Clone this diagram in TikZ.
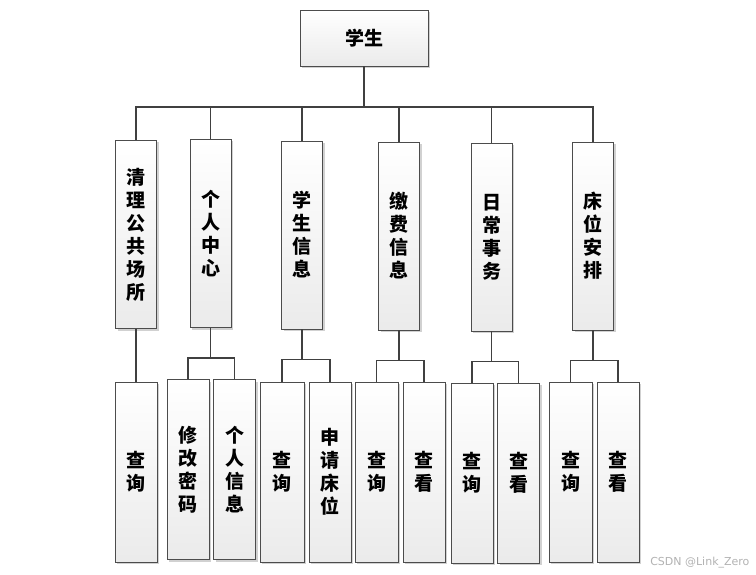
\documentclass[tikz,border=0pt]{standalone}
\usepackage{fontspec}
\newfontfamily\cjk{Noto Sans CJK SC}
\newfontfamily\wmfont{DejaVu Sans}
\usetikzlibrary{shadows}

\tikzset{
  box/.style = {shape=rectangle, draw=black!70, line width=0.9pt,
    top color=white, bottom color=black!8, inner sep=0pt,
    align=center, font=\cjk\bfseries\fontsize{19}{23}\selectfont,
    drop shadow={shadow xshift=2pt, shadow yshift=-2pt, fill=black!18, opacity=1}},
  modbox/.style = {box, minimum width=41pt, minimum height=188pt},
  funbox/.style = {box, minimum width=42pt, minimum height=180pt},
  link/.style = {draw=black!75, line width=1.3pt}
}

\begin{document}
\begin{tikzpicture}[x=1pt, y=-1pt]
  \useasboundingbox (0,0) rectangle (756,575);

  % top
  \node (stu) [box, minimum width=128pt, minimum height=56pt] at (364,38) {学生};

  % modules
  \node (clean)  [modbox] at (136,234.5) {清\\理\\公\\共\\场\\所};
  \node (center) [modbox] at (210.5,233.5) {个\\人\\中\\心};
  \node (info)   [modbox] at (302,235) {学\\生\\信\\息};
  \node (fee)    [modbox] at (399,236) {缴\\费\\信\\息};
  \node (daily)  [modbox] at (491.5,237) {日\\常\\事\\务};
  \node (bed)    [modbox] at (593,236) {床\\位\\安\\排};

  % functions
  \node (clean1)  [funbox] at (136,472) {查\\询};
  \node (center1) [funbox] at (188,469.5) {修\\改\\密\\码};
  \node (center2) [funbox] at (234.5,469.5) {个\\人\\信\\息};
  \node (info1)   [funbox, minimum width=44pt] at (282,472) {查\\询};
  \node (info2)   [funbox] at (330,472) {申\\请\\床\\位};
  \node (fee1)    [funbox, minimum width=43pt] at (376.5,472) {查\\询};
  \node (fee2)    [funbox] at (424,472) {查\\看};
  \node (daily1)  [funbox] at (472,473) {查\\询};
  \node (daily2)  [funbox] at (518.5,473) {查\\看};
  \node (bed1)    [funbox, minimum width=43pt] at (570.5,472) {查\\询};
  \node (bed2)    [funbox] at (618,472) {查\\看};

  % links
  \coordinate (bus) at (364,107);
  \draw [link] (stu.south) -- (bus);
  \foreach \m in {clean,center,info,fee,daily,bed}
    \draw [link] (bus) -| (\m.north);
  \draw [link] (clean.south) -- (clean1.north);
  \foreach \m in {center,info,fee,daily,bed}
    \foreach \k in {1,2}
      \draw [link] (\m.south) -- ++(0,30) -| (\m\k.north);

  \node (mark) [anchor=east, text=black!30, font=\wmfont\fontsize{11}{13}\selectfont]
    at (753,563) {CSDN @Link\_Zero};
\end{tikzpicture}
\end{document}
